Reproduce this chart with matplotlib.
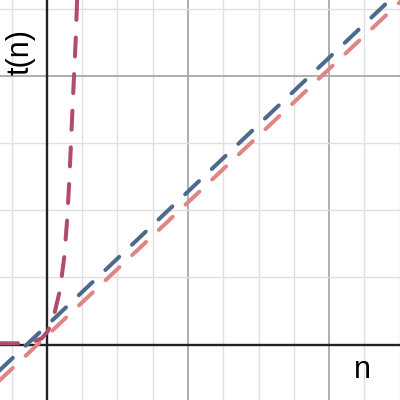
import matplotlib
matplotlib.use("Agg")
import matplotlib.pyplot as plt

# grid units: one minor grid step = 1 on each axis, major every 4
x_lim = (-1.333, 10.014)
y_lim = (-0.827, 5.134)
x_major = [4, 8]
x_minor = [-1, 1, 2, 3, 5, 6, 7, 9, 10]
y_major = [4]
y_minor = [1, 2, 3, 5]

# straight lines
blue_n = [-1.5, 10.2]
blue_t = [-0.463, 5.370]
pink_n = [-1.5, 10.2]
pink_t = [-0.612, 5.196]

# fast-growing curve
red_n = [-1.5, -0.709, -0.397, -0.150, 0.028, 0.128, 0.227, 0.369,
         0.491, 0.567, 0.624, 0.672, 0.718, 0.766, 0.814, 0.851, 0.862]
red_t = [0.018, 0.018, 0.042, 0.092, 0.201, 0.335, 0.499, 0.812,
         1.308, 1.830, 2.352, 2.899, 3.446, 3.991, 4.538, 5.085, 5.205]

plt.rcParams['lines.scale_dashes'] = False

fig = plt.figure(figsize=(4, 4), dpi=100)
ax = fig.add_axes([0, 0, 1, 1])
ax.set_xlim(*x_lim)
ax.set_ylim(*y_lim)
for s in ax.spines.values():
    s.set_visible(False)

ax.set_xticks(x_major)
ax.set_xticks(x_minor, minor=True)
ax.set_yticks(y_major)
ax.set_yticks(y_minor, minor=True)
ax.tick_params(which='both', length=0, labelbottom=False, labelleft=False)
ax.grid(which='minor', color='#e0e0e0', linewidth=1.0)
ax.grid(which='major', color='#a8a8a8', linewidth=1.3)
ax.set_axisbelow(True)

ax.axhline(0, color='#222222', linewidth=1.7, zorder=2)
ax.axvline(0, color='#222222', linewidth=1.7, zorder=2)

dash = (13.7, 12.7)
ax.plot(pink_n, pink_t, color='#e08585', lw=2.9, dashes=dash,
        dash_capstyle='round', zorder=3)
ax.plot(blue_n, blue_t, color='#4b6a8e', lw=2.9, dashes=dash,
        dash_capstyle='round', zorder=4)
ax.plot(red_n, red_t, color='#b04d68', lw=2.9, dashes=dash,
        dash_capstyle='round', zorder=5)

fig.text(0.0708, 0.871, 't(n)', rotation=90, rotation_mode='anchor',
         ha='center', va='baseline', fontsize=22, family='Liberation Sans')
fig.text(0.906, 0.0558, 'n', ha='center', va='baseline', fontsize=22,
         family='Liberation Sans')

fig.savefig('out.png', dpi=100)
